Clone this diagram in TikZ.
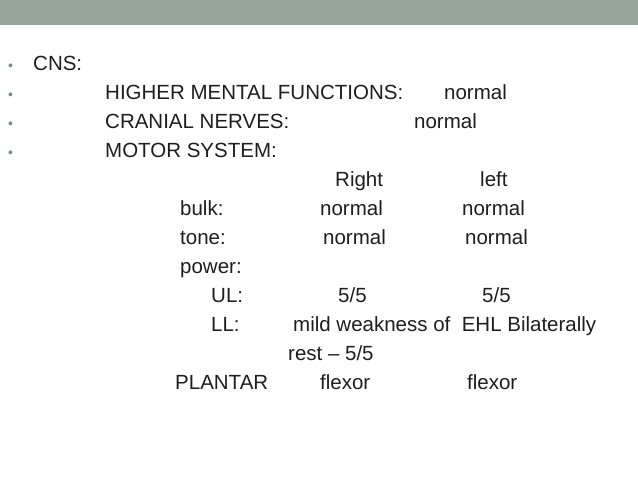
\documentclass[tikz,border=0pt]{standalone}
\usepackage{fontspec}
\setmainfont{Liberation Sans}
\definecolor{bar}{RGB}{150,166,152}
\definecolor{txt}{RGB}{30,30,30}
\definecolor{bul}{RGB}{120,140,125}
\begin{document}
\begin{tikzpicture}[x=1pt,y=-1pt,
  t/.style={anchor=base west,inner sep=0pt,text=txt,font=\fontsize{20.5}{24}\selectfont},
  b/.style={anchor=base west,inner sep=0pt,text=bul,font=\fontsize{14}{16}\selectfont}]
\useasboundingbox[fill=white] (0,0) rectangle (638,478);
\fill[bar] (0,0) rectangle (638,25);
\foreach \y [count=\i] in {71,100,129,158} \node[b] (bu\i) at (8,\y) {•};
\node[t] (cns) at (33,71) {CNS:};
\node[t] (hmf) at (105,100) {HIGHER MENTAL FUNCTIONS:};
\node[t] (hmfv) at (444,100) {normal};
\node[t] (cn) at (105,129) {CRANIAL NERVES:};
\node[t] (cnv) at (414,129) {normal};
\node[t] (ms) at (105,158) {MOTOR SYSTEM:};
\node[t] (r) at (335,187) {Right};
\node[t] (l) at (480,187) {left};
\node[t] (bk) at (180,216) {bulk:};
\node[t] (bkr) at (320,216) {normal};
\node[t] (bkl) at (462,216) {normal};
\node[t] (tn) at (180,245) {tone:};
\node[t] (tnr) at (323,245) {normal};
\node[t] (tnl) at (465,245) {normal};
\node[t] (pw) at (180,274) {power:};
\node[t] (ul) at (211,303) {UL:};
\node[t] (ulr) at (338,303) {5/5};
\node[t] (ull) at (482,303) {5/5};
\node[t] (ll) at (211,332) {LL:};
\node[t] (llv) at (293,332) {mild weakness of\ \ EHL Bilaterally};
\node[t] (rest) at (288,361) {rest – 5/5};
\node[t] (pl) at (175,390) {PLANTAR};
\node[t] (plr) at (320,390) {flexor};
\node[t] (pll) at (467,390) {flexor};
\end{tikzpicture}
\end{document}
